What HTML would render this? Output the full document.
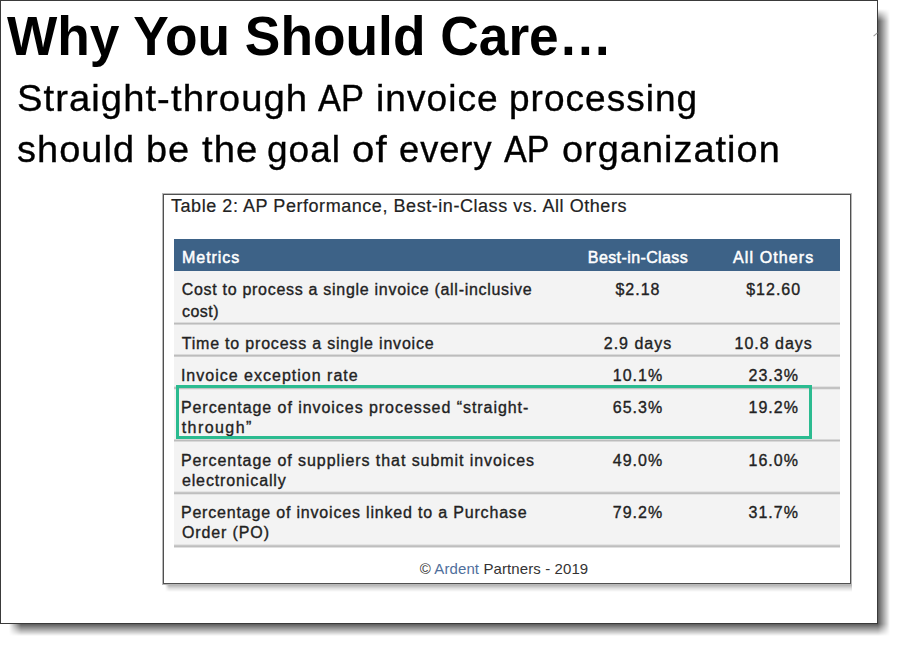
<!DOCTYPE html>
<html><head><meta charset="utf-8"><title>Why You Should Care</title>
<style>
html,body{margin:0;padding:0;background:#fff;}
body{width:900px;height:646px;position:relative;overflow:hidden;font-family:"Liberation Sans",sans-serif;color:#000;}
div{position:absolute;box-sizing:border-box;white-space:nowrap;}
#shr{left:878px;top:9px;width:12px;height:615px;background:linear-gradient(to right,rgba(0,0,0,.64),rgba(0,0,0,0));-webkit-mask-image:linear-gradient(to bottom,transparent 0,#000 12px);mask-image:linear-gradient(to bottom,transparent 0,#000 12px);}
#shb{left:9px;top:624px;width:869px;height:12px;background:linear-gradient(to bottom,rgba(0,0,0,.64),rgba(0,0,0,0));-webkit-mask-image:linear-gradient(to right,transparent 0,#000 12px);mask-image:linear-gradient(to right,transparent 0,#000 12px);}
#shc{left:878px;top:624px;width:12px;height:12px;background:linear-gradient(to right,rgba(0,0,0,.64),rgba(0,0,0,0));-webkit-mask-image:linear-gradient(to bottom,#000,transparent);mask-image:linear-gradient(to bottom,#000,transparent);}
#slide{left:0;top:0;width:878px;height:624px;border:1px solid #3a3a3a;background:#fff;}
#title{left:7px;font-weight:bold;font-size:53.3px;line-height:60px;transform-origin:0 48.47px;transform:scaleY(1.03);}
.sub{font-size:36px;line-height:44px;transform-origin:0 0;-webkit-text-stroke:.35px #000;}
#box{left:163px;top:194px;width:688px;height:390px;border:1px solid #505050;background:#fff;box-shadow:0 0 0 1px rgba(0,0,0,.28);}
#bsh{left:165px;top:585px;width:687px;height:7px;background:linear-gradient(to bottom,rgba(0,0,0,.3),rgba(0,0,0,.12) 50%,rgba(0,0,0,0));-webkit-mask-image:linear-gradient(to right,transparent 0,#000 4px);mask-image:linear-gradient(to right,transparent 0,#000 4px);}
#tick{left:873px;top:34px;width:5px;height:1px;background:#999;transform:rotate(-40deg);}
#cap{font-size:18px;line-height:22px;color:#222;letter-spacing:.55px;-webkit-text-stroke:.2px #222;}
#hdr{left:174px;top:239px;width:666px;height:32px;background:#3d6287;}
.row{left:174px;width:666px;background:#f3f3f3;}
.ln{left:174px;width:666px;height:3px;background:linear-gradient(#dcdcdc 0 33%,#bcbcbc 33% 67%,#d4d4d4 67% 100%);}
.t{font-size:16px;line-height:20px;color:#222;letter-spacing:.7px;-webkit-text-stroke:.35px #222;}
.w{color:#fff;-webkit-text-stroke:.5px #fff;letter-spacing:.95px;}
.c{text-align:center;width:140px;}
.n{letter-spacing:1px;}
#hl{left:176px;top:385px;width:636px;height:54px;border:3px solid #2bbb90;}
#foot{left:160px;width:688px;text-align:center;font-size:15px;line-height:18px;color:#333;letter-spacing:.1px;}
#foot span{color:#4f6f9c;}
</style></head><body>
<div id="shr"></div><div id="shb"></div><div id="shc"></div>
<div id="slide"></div>
<div id="title" style="top:6.83px">Why You Should Care…</div>
<div class="sub" style="left:17.24px;top:76.83px;letter-spacing:1px;transform:scaleX(1.0608)">Straight-</div>
<div class="sub" style="left:171.00px;top:76.83px;letter-spacing:1px;transform:scaleX(1.0628)">through</div>
<div class="sub" style="left:318.30px;top:76.83px;letter-spacing:0px;transform:scaleX(0.9572)">AP</div>
<div class="sub" style="left:375.94px;top:76.83px;letter-spacing:1px;transform:scaleX(1.0301)">invoice</div>
<div class="sub" style="left:509.24px;top:76.83px;letter-spacing:1px;transform:scaleX(1.0275)">processing</div>
<div class="sub" style="left:17.35px;top:128.03px;letter-spacing:1px;transform:scaleX(1.0531)">should</div>
<div class="sub" style="left:145.70px;top:128.03px;letter-spacing:1px;transform:scaleX(1.0520)">be</div>
<div class="sub" style="left:201.50px;top:128.03px;letter-spacing:1px;transform:scaleX(1.0603)">the</div>
<div class="sub" style="left:266.77px;top:128.03px;letter-spacing:1px;transform:scaleX(1.0284)">goal</div>
<div class="sub" style="left:352.19px;top:128.03px;letter-spacing:1px;transform:scaleX(1.1121)">of</div>
<div class="sub" style="left:398.59px;top:128.03px;letter-spacing:1px;transform:scaleX(1.0051)">every</div>
<div class="sub" style="left:504.40px;top:128.03px;letter-spacing:0px;transform:scaleX(0.9487)">AP</div>
<div class="sub" style="left:562.45px;top:128.03px;letter-spacing:1px;transform:scaleX(1.0509)">organization</div>
<div id="bsh"></div>
<div id="box"></div>
<div id="tick"></div>
<div id="cap" style="left:171px;top:194.86px">Table 2: AP Performance, Best-in-Class vs. All Others</div>
<div id="hdr"></div>
<div class="t w" style="left:182px;top:248.46px">Metrics</div>
<div class="t w c" style="left:568px;top:248.46px"><span style="letter-spacing:.4px">Best-in-Class</span></div>
<div class="t w c" style="left:703.7px;top:248.46px"><span style="letter-spacing:1.1px">All Others</span></div>
<div class="row" id="r1" style="top:271px;height:52px"></div>
<div class="row" id="r2" style="top:323px;height:33px"></div>
<div class="row" id="r3" style="top:356px;height:32px"></div>
<div class="row" id="r4" style="top:388px;height:52px"></div>
<div class="row" id="r5" style="top:440px;height:53px"></div>
<div class="row" id="r6" style="top:493px;height:53px"></div>
<div class="ln" style="top:322px;height:3px;background:linear-gradient(#dcdcdc 0px 1px,#bcbcbc 1px 2px,#d4d4d4 2px 3px)"></div>
<div class="ln" style="top:354px;height:3px;background:linear-gradient(#dadada 0px 1px,#bcbcbc 1px 2px,#cecece 2px 3px)"></div>
<div class="ln" style="top:386px;height:4px;background:linear-gradient(#e2e2e2 0px 1px,#c2c2c2 1px 2px,#c2c2c2 2px 3px,#e6e6e6 3px 4px)"></div>
<div class="ln" style="top:439px;height:3px;background:linear-gradient(#d8d8d8 0px 1px,#bcbcbc 1px 2px,#d8d8d8 2px 3px)"></div>
<div class="ln" style="top:491px;height:4px;background:linear-gradient(#e4e4e4 0px 1px,#c6c6c6 1px 2px,#bebebe 2px 3px,#e4e4e4 3px 4px)"></div>
<div class="ln" style="top:544px;height:4px;background:linear-gradient(#e4e4e4 0px 1px,#c8c8c8 1px 2px,#bebebe 2px 3px,#e0e0e0 3px 4px)"></div>
<div class="t" style="left:181.70px;top:280.36px;letter-spacing:0.707px">Cost to process a single invoice (all-inclusive</div>
<div class="t" style="left:181.90px;top:301.66px;letter-spacing:0.514px">cost)</div>
<div class="t n c" style="left:568px;top:280.36px">$2.18</div>
<div class="t n c" style="left:703.7px;top:280.36px">$12.60</div>
<div class="t" style="left:181.70px;top:333.66px;letter-spacing:0.804px">Time to process a single invoice</div>
<div class="t n c" style="left:568px;top:333.66px">2.9 days</div>
<div class="t n c" style="left:703.7px;top:333.66px">10.8 days</div>
<div class="t" style="left:180.90px;top:366.06px;letter-spacing:1.007px">Invoice exception rate</div>
<div class="t n c" style="left:568px;top:366.06px">10.1%</div>
<div class="t n c" style="left:703.7px;top:366.06px">23.3%</div>
<div class="t" style="left:180.90px;top:398.16px;letter-spacing:0.946px">Percentage of invoices processed “straight-</div>
<div class="t" style="left:181.70px;top:418.36px;letter-spacing:1.433px">through”</div>
<div class="t n c" style="left:568px;top:398.16px">65.3%</div>
<div class="t n c" style="left:703.7px;top:398.16px">19.2%</div>
<div class="t" style="left:180.90px;top:450.66px;letter-spacing:0.934px">Percentage of suppliers that submit invoices</div>
<div class="t" style="left:181.90px;top:471.16px;letter-spacing:0.878px">electronically</div>
<div class="t n c" style="left:568px;top:450.66px">49.0%</div>
<div class="t n c" style="left:703.7px;top:450.66px">16.0%</div>
<div class="t" style="left:180.90px;top:503.06px;letter-spacing:0.819px">Percentage of invoices linked to a Purchase</div>
<div class="t" style="left:181.90px;top:523.46px;letter-spacing:0.890px">Order (PO)</div>
<div class="t n c" style="left:568px;top:503.06px">79.2%</div>
<div class="t n c" style="left:703.7px;top:503.06px">31.7%</div>
<div id="hl"></div>
<div id="foot" style="top:560.00px">© <span>Ardent</span> Partners - 2019</div>
</body></html>
